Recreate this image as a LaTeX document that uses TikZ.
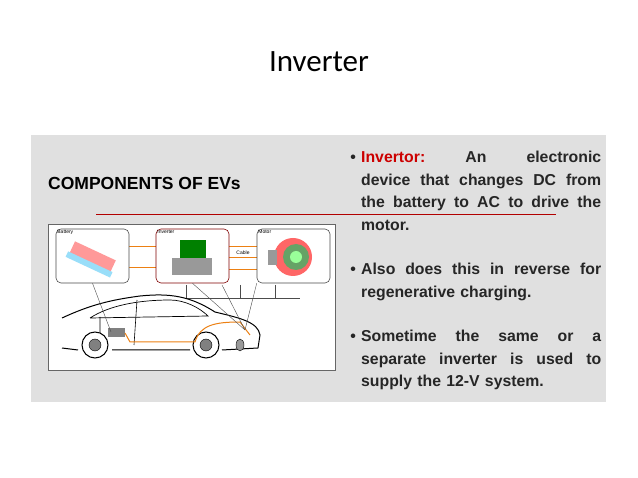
\documentclass[tikz,border=0pt]{standalone}
\usepackage{fontspec}
\setmainfont{Liberation Sans}
\newfontfamily\titlefont{Carlito}
\begin{document}
\begin{tikzpicture}[x=1pt,y=-1pt,
  comp/.style={draw=black!70,rounded corners=5pt,fill=white,line width=0.6pt},
  wire/.style={draw=orange!70!brown,line width=1pt},
  lead/.style={draw=black!70,line width=0.4pt},
  btxt/.style={anchor=north west,text width=240pt,align=left,inner sep=0pt,font=\fontsize{15.8}{22.5}\selectfont\bfseries,text=black!85}]
\useasboundingbox (0,0) rectangle (638,478);
\fill[white] (0,0) rectangle (638,478);
\node[font=\titlefont\fontsize{31}{32}\selectfont] (title) at (319,62) {Inverter};
\fill[black!12] (31,135) rectangle (606,402);
\node[anchor=west,inner sep=0pt,font=\fontsize{17.5}{18}\selectfont\bfseries] (comp) at (48,183) {COMPONENTS OF EV\textsc{s}};
\draw[red!70!black,line width=0.8pt] (96,214) -- (556,214);
\draw[fill=white,draw=black!60] (48,224) rectangle (335,370);
% wires between boxes
\draw[wire] (129,247) -- (156,247) (129,268) -- (156,268) (229,247) -- (257,247) (229,258) -- (257,258) (229,270) -- (257,270);
\node[font=\tiny] (cable) at (243,253) {Cable};
\draw[lead] (186,285) -- (186,298) (240,285) -- (240,298) (275,285) -- (275,298) (160,298) -- (300,298);
% boxes
\node[comp,minimum width=73pt,minimum height=54pt] (bat) at (92.5,256) {};
\node[comp,draw=red!50!black,minimum width=73pt,minimum height=54pt] (inv) at (192.5,256) {};
\node[comp,minimum width=73pt,minimum height=54pt] (mot) at (293.5,256) {};
\node[anchor=north west,font=\fontsize{5}{5}\selectfont,inner sep=1.5pt] at (bat.north west) {Battery};
\node[anchor=north west,font=\fontsize{5}{5}\selectfont,inner sep=1.5pt] at (inv.north west) {Inverter};
\node[anchor=north west,font=\fontsize{5}{5}\selectfont,inner sep=1.5pt] at (mot.north west) {Motor};
% pictograms
\fill[red!40,rotate around={-25:(92,257)}] (70,250) rectangle (115,264);
\fill[cyan!40,rotate around={-25:(92,257)}] (68,262) rectangle (117,268);
\fill[green!50!black] (180,240) rectangle (206,262);
\fill[black!40] (172,258) rectangle (212,275);
\fill[red!60] (293,257) circle (19);
\fill[green!40!black!60] (296,257) circle (13);
\fill[green!40] (296,257) circle (6);
\fill[black!40] (268,250) rectangle (277,265);
% car
\draw[line width=1pt,fill=white] (62,318) .. controls (90,305) and (110,300) .. (140,296)
  .. controls (170,293) and (190,296) .. (215,312) .. controls (240,318) and (258,322) .. (260,335)
  -- (258,348) -- (222,350) (190,350) -- (112,350) (78,350) -- (62,348) -- cycle;
\draw[line width=0.7pt] (90,318) .. controls (110,305) and (140,300) .. (170,300) .. controls (185,300) and (200,308) .. (208,316) -- (90,318);
\draw[line width=0.6pt] (137,300) -- (134,345) (100,317)--(100,345);
\draw[line width=1pt,fill=white] (95,345) circle (13);
\draw[line width=1pt,fill=white] (206,345) circle (13);
\draw[fill=black!50] (95,345) circle (6);
\draw[fill=black!50] (206,345) circle (6);
\fill[black!50] (108,328) rectangle (125,337);
\draw[wire] (125,333) -- (130,342) -- (195,342) .. controls (200,325) and (215,322) .. (240,322) -- (250,335);
\draw[fill=black!40] (240,345) ellipse (4 and 6);
\draw[lead] (bat.south) -- (111,332) (inv.south) -- (245,330) (mot.south west) -- (245,330) (222,285) -- (245,330);
% text
\node[btxt] (t1) at (361,151) {\llap{\textbullet\ }\textcolor{red!80!black}{Invertor:}\hfill An\hfill electronic\\device\hfill that\hfill changes\hfill DC\hfill from\\the\hfill battery\hfill to\hfill AC\hfill to\hfill drive\hfill the\\motor.};
\node[btxt] (t2) at (361,263) {\llap{\textbullet\ }Also\hfill does\hfill this\hfill in\hfill reverse\hfill for\\regenerative charging.};
\node[btxt] (t3) at (361,330) {\llap{\textbullet\ }Sometime\hfill the\hfill same\hfill or\hfill a\\separate\hfill inverter\hfill is\hfill used\hfill to\\supply the 12-V system.};
\end{tikzpicture}
\end{document}
